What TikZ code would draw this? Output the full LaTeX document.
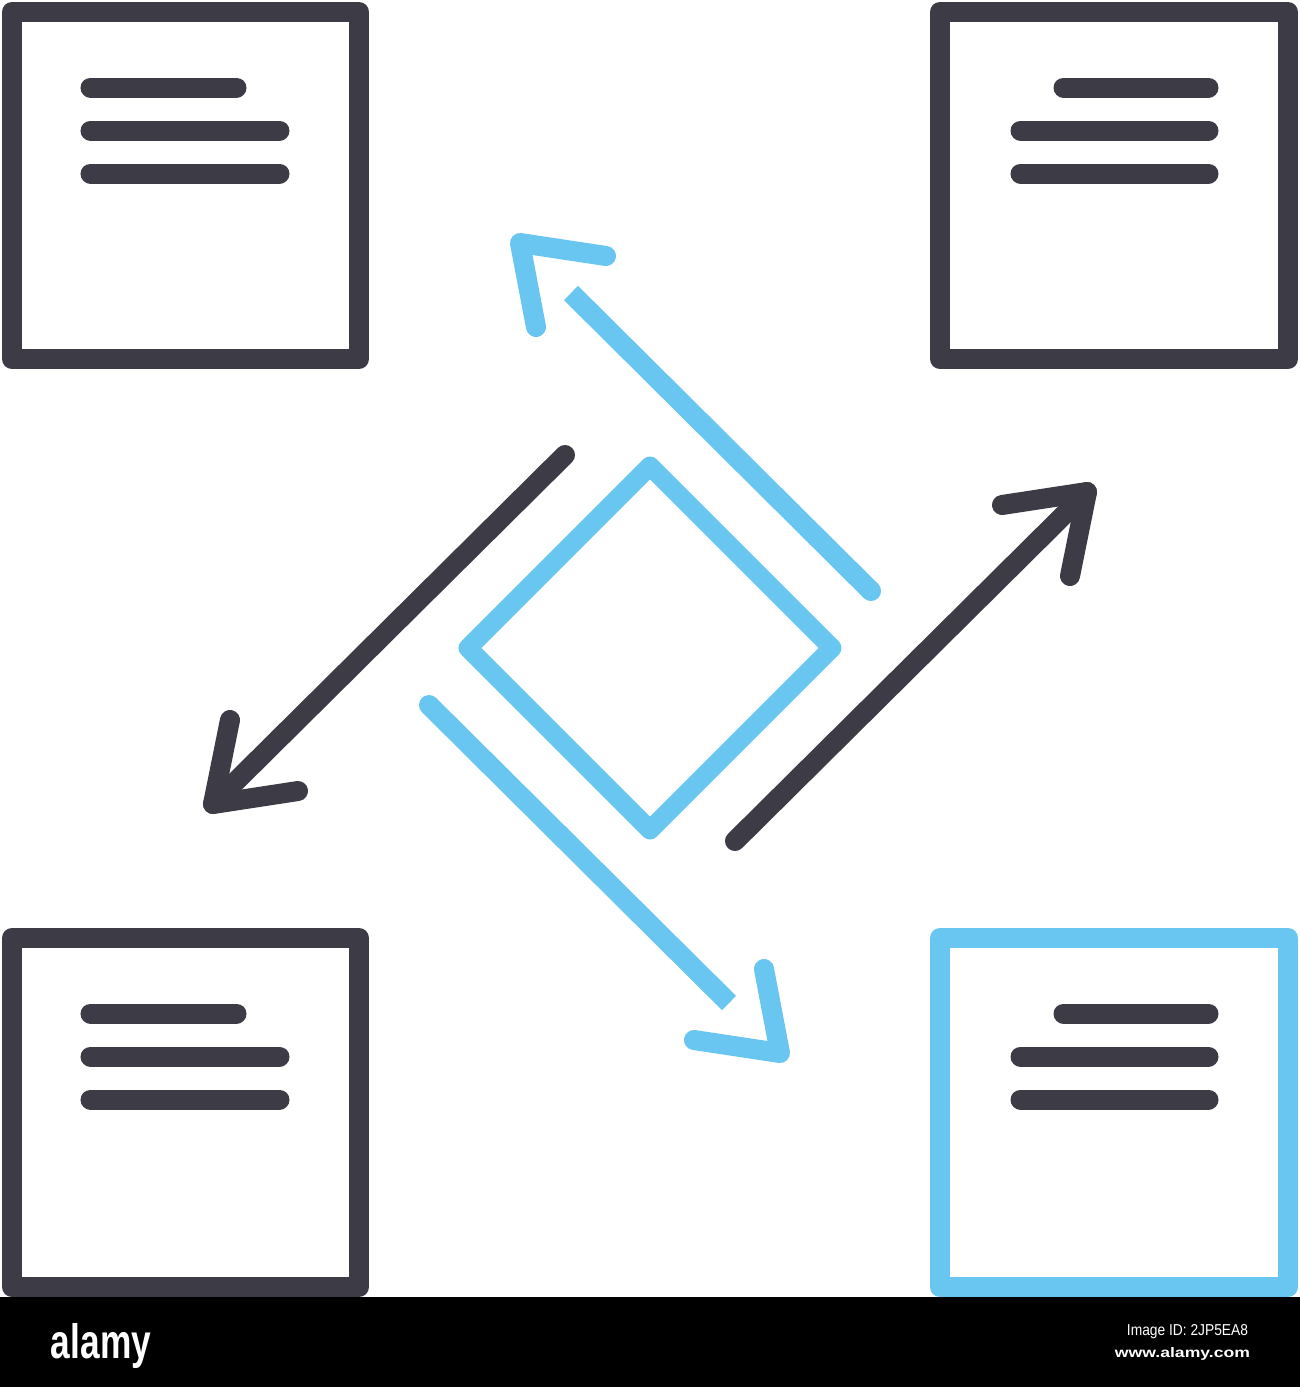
\documentclass[tikz,border=0pt]{standalone}
\usepackage{fontspec}
\setmainfont{Liberation Sans}
\usepackage{graphicx}
\definecolor{ink}{HTML}{3D3C46}
\definecolor{sky}{HTML}{68C6F0}
\begin{document}
\begin{tikzpicture}[x=0.01cm,y=-0.01cm,
  stroke/.style={line width=0.2cm,line join=round,line cap=round},
  boxline/.style={stroke,ink},
  lbl/.style={white,inner sep=0pt,outer sep=0pt}]
\useasboundingbox (0,0) rectangle (1300,1387);
\fill[white] (0,0) rectangle (1300,1387);
% top-left document
\draw[stroke,ink] (12,12) rectangle (359,359);
\draw[boxline] (90.5,87.5) -- (236.5,87.5);
\draw[boxline] (90.5,130.5) -- (279.5,130.5);
\draw[boxline] (90.5,173.5) -- (279.5,173.5);
% top-right document
\draw[stroke,ink] (940,12) rectangle (1288,359);
\draw[boxline] (1063.5,87.5) -- (1208.5,87.5);
\draw[boxline] (1020.5,130.5) -- (1208.5,130.5);
\draw[boxline] (1020.5,173.5) -- (1208.5,173.5);
% bottom-left document
\draw[stroke,ink] (12,938) rectangle (359,1287);
\draw[boxline] (90.5,1013.5) -- (236.5,1013.5);
\draw[boxline] (90.5,1056.5) -- (279.5,1056.5);
\draw[boxline] (90.5,1099.5) -- (279.5,1099.5);
% bottom-right document (blue)
\draw[stroke,sky] (940,938) rectangle (1288,1287);
\draw[boxline] (1063.5,1013.5) -- (1208.5,1013.5);
\draw[boxline] (1020.5,1056.5) -- (1208.5,1056.5);
\draw[boxline] (1020.5,1099.5) -- (1208.5,1099.5);
% central diamond
\draw[sky,line width=0.19cm,line join=round] (650,466) -- (832,648) -- (650,830) -- (468,648) -- cycle;
% blue arrow upper-left
\draw[sky,line width=0.2cm,line cap=butt] (571,293) -- (871,591);
\fill[sky] (871,591) circle[radius=0.1cm];
\draw[stroke,sky] (606,256) -- (520,243) -- (536,327);
% blue arrow lower-right
\draw[sky,line width=0.2cm,line cap=butt] (729,1003) -- (429,705);
\fill[sky] (429,705) circle[radius=0.1cm];
\draw[stroke,sky] (694,1040) -- (780,1053) -- (764,969);
% dark arrow lower-left
\draw[stroke,ink] (565,455) -- (213,804);
\draw[stroke,ink] (230,720) -- (213,804) -- (298,791);
% dark arrow upper-right
\draw[stroke,ink] (735,841) -- (1087,492);
\draw[stroke,ink] (1002,505) -- (1087,492) -- (1070,576);
% banner
\fill[black] (0,1297) rectangle (1300,1387);
\node[lbl,anchor=base west] (brand) at (51,1358) {\resizebox{1.00cm}{0.35cm}{\bfseries alamy}};
\node[lbl,anchor=base east] (imgid) at (1248,1335) {\resizebox{1.21cm}{0.11cm}{Image ID: 2JP5EA8}};
\node[lbl,anchor=base east] (site) at (1250,1357) {\resizebox{1.35cm}{0.10cm}{\bfseries www.alamy.com}};
\end{tikzpicture}
\end{document}
